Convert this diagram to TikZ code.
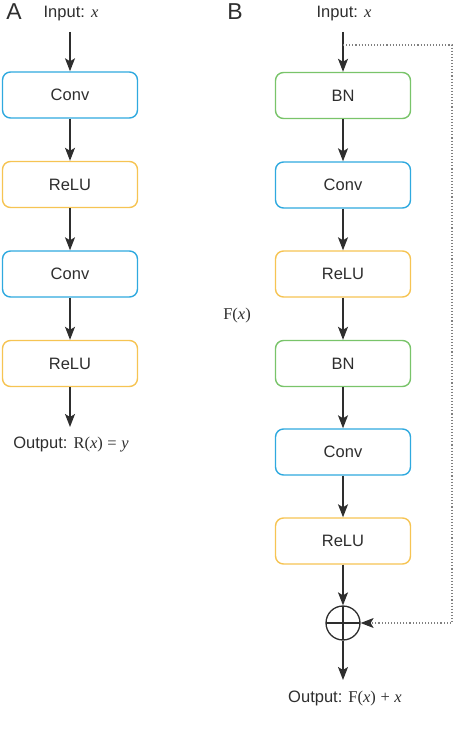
\documentclass[tikz,border=0pt]{standalone}
\usepackage{fontspec}
\setmainfont{Liberation Sans}
\newfontfamily\tmsfont{Liberation Serif}
\usetikzlibrary{arrows.meta,positioning}
\definecolor{cblue}{HTML}{2FA9DF}
\definecolor{corange}{HTML}{F6C453}
\definecolor{cgreen}{HTML}{79C46A}
\definecolor{ctext}{HTML}{2E2E2E}
\newcommand{\vx}{{\tmsfont\itshape x}}
\newcommand{\vy}{{\tmsfont\itshape y}}
\newcommand{\sfn}[1]{{\tmsfont #1}}
\tikzset{
  blk/.style={draw, line width=1.4pt, rounded corners=8pt, minimum width=135pt, minimum height=46pt, fill=white, text=ctext, font=\fontsize{16.5}{19}\selectfont},
  convb/.style={blk, draw=cblue},
  relub/.style={blk, draw=corange},
  bnb/.style={blk, draw=cgreen},
  lbl/.style={text=ctext, font=\fontsize{16.5}{19}\selectfont, inner sep=0pt},
  flow/.style={draw=ctext, line width=1.4pt, -{Stealth[length=13pt,width=10pt,inset=3pt]}},
  skip/.style={draw=gray, line width=1.1pt, dotted, -{Stealth[length=13pt,width=10pt,inset=3pt,color=ctext,fill=ctext]}},
  panel/.style={text=ctext, font=\fontsize{23}{26}\selectfont, inner sep=0pt},
}
\begin{document}
\begin{tikzpicture}[x=1pt,y=-1pt]
\useasboundingbox (0,0) rectangle (474,733);
% panel A
\node[panel] (pa) at (14,12) {A};
\node[lbl] (ina) at (71,14) {Input: \vx};
\coordinate (ina0) at (70,32);
\node[convb]  (a1) at (70,95)   {Conv};
\node[relub]  (a2) at (70,184.5) {ReLU};
\node[convb]  (a3) at (70,274)  {Conv};
\node[relub]  (a4) at (70,363.5) {ReLU};
\coordinate (outa0) at (70,427);
\node[lbl] (outa) at (71,445) {Output: \sfn{R(}\vx\sfn{)} \sfn{=} \vy};
\draw[flow] (ina0) -- (a1);
\draw[flow] (a1) -- (a2);
\draw[flow] (a2) -- (a3);
\draw[flow] (a3) -- (a4);
\draw[flow] (a4) -- (outa0);
% panel B
\node[panel] (pb) at (235,12) {B};
\node[lbl] (inb) at (344,14) {Input: \vx};
\coordinate (inb0) at (343,32);
\coordinate (br) at (343,45);
\node[bnb]    (b1) at (343,95.5) {BN};
\node[convb]  (b2) at (343,185)  {Conv};
\node[relub]  (b3) at (343,274)  {ReLU};
\node[bnb]    (b4) at (343,363.5) {BN};
\node[convb]  (b5) at (343,452)  {Conv};
\node[relub]  (b6) at (343,541)  {ReLU};
\node[lbl] (fx) at (237,316) {\sfn{F(}\vx\sfn{)}};
\node[draw=ctext, line width=1.3pt, circle, minimum size=34pt, inner sep=0pt,
  path picture={\draw[ctext, line width=1.3pt] (path picture bounding box.north) -- (path picture bounding box.south)
    (path picture bounding box.west) -- (path picture bounding box.east);}] (sum) at (343,623) {};
\coordinate (outb0) at (343,680);
\node[lbl] (outb) at (345,698) {Output: \sfn{F(}\vx\sfn{)} \sfn{+} \vx};
\coordinate (c1) at (452,45);
\coordinate (c2) at (452,623);
\draw[flow] (inb0) -- (b1);
\draw[flow] (b1) -- (b2);
\draw[flow] (b2) -- (b3);
\draw[flow] (b3) -- (b4);
\draw[flow] (b4) -- (b5);
\draw[flow] (b5) -- (b6);
\draw[flow] (b6) -- (sum);
\draw[flow] (sum) -- (outb0);
\draw[skip] (br) -- (c1) -- (c2) -- (sum);
\end{tikzpicture}
\end{document}
